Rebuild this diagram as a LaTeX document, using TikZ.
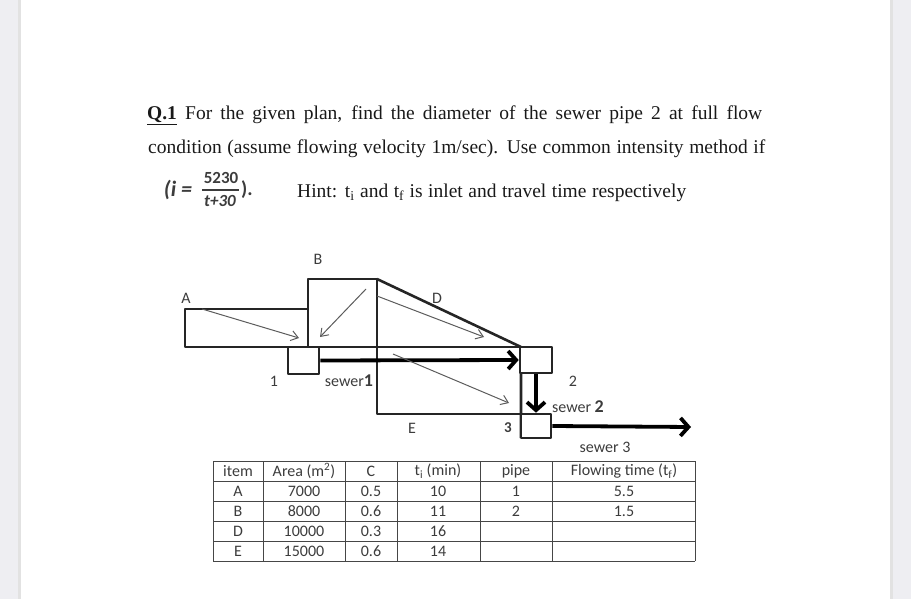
\documentclass[tikz,border=0pt]{standalone}
\usepackage{fontspec}
\usetikzlibrary{arrows.meta}
\setmainfont{Liberation Serif}
\newfontfamily\tablefont{Carlito}
\definecolor{inkgray}{HTML}{252525}
\definecolor{labelgray}{HTML}{3C3C3C}
\definecolor{bandgray}{HTML}{EEEEF2}
\definecolor{edgegray}{HTML}{E2E2E2}
\tikzset{
	plan/.style={line width=2.6pt, inkgray},
	flow/.style={-{Straight Barb[length=7pt,width=10pt]}, line width=1pt, inkgray!75},
	sewer/.style={-{Straight Barb[length=8pt,width=18pt]}, line width=3.8pt, black},
	manhole/.style={draw=inkgray, line width=2.6pt, fill=white, inner sep=0pt},
	lbl/.style={font=\tablefont\fontsize{16}{18}\selectfont, text=labelgray, inner sep=0pt},
	cell/.style={font=\tablefont\fontsize{16}{18}\selectfont, text=labelgray, inner sep=0pt},
	question/.style={font=\fontsize{19.5}{22}\selectfont, text=black!90, anchor=base west, inner sep=0pt}
}
\begin{document}
\begin{tikzpicture}[x=1pt, y=-1pt, line join=round, >=stealth]
	\useasboundingbox (0,0) rectangle (911,599);
	\fill[bandgray] (0,0) rectangle (21,599);
	\fill[bandgray] (890,0) rectangle (911,599);
	\fill[edgegray] (18,0) rectangle (21,599);
	\fill[edgegray] (890,0) rectangle (893,599);
	% question text
	\node[question] (lineone) at (147,120) {\hbox to 615pt{\textbf{\underline{Q.1}} For the given plan, find the diameter of the sewer pipe 2 at full flow}};
	\node[question] (linetwo) at (148,154) {\hbox to 617pt{condition (assume flowing velocity 1m/sec). Use common intensity method if}};
	\node[question] (hint) at (297,197) {\hbox to 389pt{Hint: t\textsubscript{i} and t\textsubscript{f} is inlet and travel time respectively}};
	\node[lbl, font=\tablefont\bfseries\itshape\fontsize{22}{24}\selectfont] (formula) at (178,190) {(i =};
	\node[lbl, font=\tablefont\bfseries\fontsize{17}{18}\selectfont] (numer) at (221,178) {5230};
	\node[lbl, font=\tablefont\bfseries\itshape\fontsize{17}{18}\selectfont] (denom) at (220,201) {t+30};
	\node[lbl, font=\tablefont\bfseries\fontsize{20}{22}\selectfont] (close) at (247,190) {).};
	\draw[line width=1.2pt, labelgray] (202,190)--(239,190);
	% plan
	\draw[plan] (307,309)--(185,309)--(185,347)--(521,347);
	\draw[plan] (308,347)--(308,279)--(377,279)--(377,414)--(521,414);
	\draw[plan] (377,279)--(521,347)--(521,438);
	\node[manhole, minimum width=31pt, minimum height=27pt] (manholeone) at (303.5,360.5) {};
	\node[manhole, minimum width=32pt, minimum height=26pt] (manholetwo) at (536,360) {};
	\node[manhole, minimum width=30pt, minimum height=24pt] (manholethree) at (536,426) {};
	\coordinate (sewerend) at (691,427);
	\draw[sewer] (manholeone.east)--(manholetwo.west);
	\draw[sewer] (manholetwo.south)--(manholethree.north);
	\draw[sewer] (manholethree.east)--(sewerend);
	% flow arrows
	\coordinate (astart) at (202,309); \coordinate (aend) at (299,338);
	\coordinate (bstart) at (366,289); \coordinate (bend) at (320,337);
	\coordinate (dstart) at (377,296); \coordinate (dend) at (484,337);
	\coordinate (estart) at (393,354); \coordinate (eend) at (509,403);
	\draw[flow] (astart)--(aend);
	\draw[flow] (bstart)--(bend);
	\draw[flow] (dstart)--(dend);
	\draw[flow] (estart)--(eend);
	% labels
	\node[lbl] (labela) at (186,298) {A};
	\node[lbl] (labelb) at (318,259) {B};
	\node[lbl] (labeld) at (437,298) {D};
	\node[lbl] (labele) at (412,428) {E};
	\node[lbl] (labelone) at (274,381) {1};
	\node[lbl] (labeltwo) at (573,381) {2};
	\node[lbl, font=\tablefont\bfseries\fontsize{15}{16}\selectfont] (labelthree) at (508,428) {3};
	\node[lbl] (sewerone) at (349,381) {sewer{\bfseries\fontsize{18}{18}\selectfont 1}};
	\node[lbl] (sewertwo) at (578,407) {sewer {\bfseries\fontsize{18}{18}\selectfont 2}};
	\node[lbl] (sewerthree) at (605,447) {sewer 3};
	% table
	\foreach \y in {461,481,501,521,541,561}
		\draw[inkgray!85, line width=1pt] (213,\y)--(695,\y);
	\foreach \x in {213,263,345,397,480,552,695}
		\draw[inkgray!85, line width=1pt] (\x,461)--(\x,561);
	\foreach \t [count=\i] in {item,A,B,D,E}
		\node[cell] (item\i) at (238,451+20*\i) {\t};
	\foreach \t [count=\i] in {Area (m\textsuperscript{2}),7000,8000,10000,15000}
		\node[cell] (area\i) at (304,451+20*\i) {\t};
	\foreach \t [count=\i] in {C,0.5,0.6,0.3,0.6}
		\node[cell] (coef\i) at (371,451+20*\i) {\t};
	\foreach \t [count=\i] in {t\textsubscript{i} (min),10,11,16,14}
		\node[cell] (inlet\i) at (438,451+20*\i) {\t};
	\foreach \t [count=\i] in {pipe,1,2}
		\node[cell] (pipe\i) at (516,451+20*\i) {\t};
	\foreach \t [count=\i] in {Flowing time (t\textsubscript{f}),5.5,1.5}
		\node[cell] (flowing\i) at (624,451+20*\i) {\t};
\end{tikzpicture}
\end{document}
